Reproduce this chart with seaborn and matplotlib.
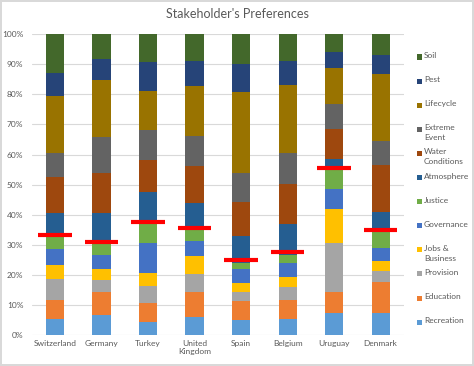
import numpy as np
import pandas as pd
import matplotlib
matplotlib.use("Agg")
import matplotlib.pyplot as plt
from matplotlib.patches import Rectangle
import seaborn as sns

# data (percent of each country's total)
countries = ["Switzerland", "Germany", "Turkey", "United\nKingdom", "Spain", "Belgium", "Uruguay", "Denmark"]
categories = ["Recreation", "Education", "Provision", "Jobs &\nBusiness", "Governance", "Justice",
              "Atmosphere", "Water\nConditions", "Extreme\nEvent", "Lifecycle", "Pest", "Soil"]

recreation = [5.3, 6.5, 4.3, 5.9, 4.9, 5.1, 7.3, 7.1]
education = [6.3, 7.6, 6.4, 8.3, 6.3, 6.6, 7.0, 10.3]
provision = [7.0, 4.1, 5.5, 5.9, 2.9, 4.3, 16.1, 3.7]
jobs = [4.6, 3.6, 4.2, 6.1, 3.2, 3.2, 11.3, 3.5]
governance = [5.3, 4.7, 10.0, 4.9, 4.5, 4.6, 6.7, 4.4]
justice = [3.9, 3.7, 6.7, 3.8, 2.2, 2.8, 7.5, 5.3]
atmosphere = [8.2, 10.2, 10.3, 8.8, 8.9, 10.3, 2.5, 6.4]
water = [11.8, 13.3, 10.8, 12.6, 11.2, 13.3, 10.0, 15.7]
extreme = [8.2, 12.0, 9.9, 9.8, 9.7, 10.2, 8.4, 8.0]
lifecycle = [18.8, 19.0, 13.1, 16.6, 27.1, 22.7, 12.0, 22.5]
pest = [7.9, 7.0, 9.5, 8.3, 9.3, 8.1, 5.2, 6.3]
soil = [12.7, 8.3, 9.3, 9.0, 9.8, 8.8, 6.0, 6.8]

# red threshold markers
markers = [33.1, 30.9, 37.6, 35.5, 24.8, 27.4, 55.5, 34.9]

colors = ["#5B9BD5", "#ED7D31", "#A5A5A5", "#FFC000", "#4472C4", "#70AD47",
          "#255E91", "#9E480E", "#636363", "#997300", "#264478", "#43682B"]

values = np.array([recreation, education, provision, jobs, governance, justice,
                   atmosphere, water, extreme, lifecycle, pest, soil])
values = values / values.sum(axis=0) * 100
cum = np.cumsum(values, axis=0)

sns.set_style("white")
plt.rcParams['font.family'] = ['Lato', 'DejaVu Sans']
txt = "#595959"

fig = plt.figure(figsize=(4.74, 3.66), dpi=100)
ax = fig.add_axes([0.067, 0.0855, 0.785, 0.8205])

# stacked bars: draw cumulative totals from the top layer down
for i in range(len(categories) - 1, -1, -1):
    df = pd.DataFrame({"country": countries, "value": cum[i]})
    sns.barplot(data=df, x="country", y="value", color=colors[i], saturation=1,
                width=0.39, ax=ax, linewidth=0, zorder=2)

xpos = np.arange(len(countries))
ax.hlines(markers, xpos - 0.36, xpos + 0.36, color="#FF0000", linewidth=3, zorder=3)

ax.set_ylim(0, 100)
ax.set_xlim(-0.5, len(countries) - 0.5)
ax.set_yticks(np.arange(0, 101, 10))
ax.set_yticklabels([f"{v}%" for v in range(0, 101, 10)])
ax.yaxis.grid(True, color="#D9D9D9", linewidth=0.8, zorder=0)
ax.set_axisbelow(True)
for s in ax.spines.values():
    s.set_visible(False)
ax.tick_params(axis="both", length=0, labelsize=6, colors=txt, pad=4)
ax.tick_params(axis="y", pad=6)
ax.set_xlabel("")
ax.set_ylabel("")

fig.text(0.5, 1 - 14 / 366, "Stakeholder's Preferences", ha="center", va="center",
         fontsize=9, color=txt)

# legend, top entry = last category
W, H = 474, 366
for j, i in enumerate(range(len(categories) - 1, -1, -1)):
    y = 57 + j * 24.1
    fig.add_artist(Rectangle(((416.5) / W, 1 - (y + 2.5) / H), 5 / W, 5 / H,
                             transform=fig.transFigure, color=colors[i], lw=0))
    fig.text(424 / W, 1 - (y - 5) / H, categories[i], ha="left", va="top",
             fontsize=6, color=txt, linespacing=1.5)

fig.patch.set_edgecolor("#D9D9D9")
fig.patch.set_linewidth(1.5)

fig.savefig("out.png", dpi=100)
